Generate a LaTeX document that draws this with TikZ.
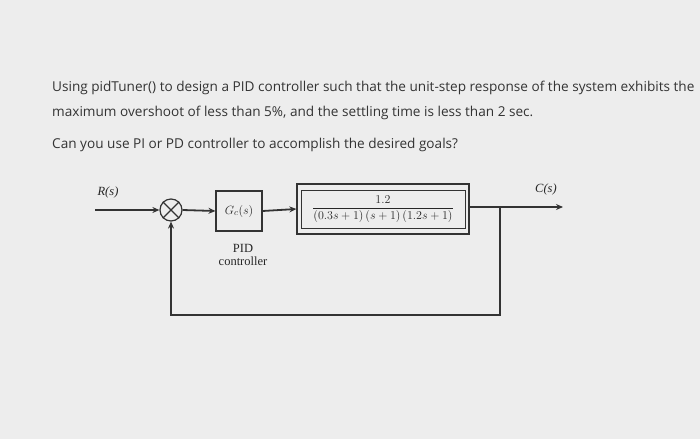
\documentclass[tikz,border=0pt]{standalone}
\usepackage{fontspec}
\setmainfont{Liberation Serif}
\newfontfamily\qfont{Open Sans}
\usetikzlibrary{arrows.meta}
\begin{document}
\begin{tikzpicture}[x=1pt,y=-1pt,
  blk/.style={draw=black!80,line width=1.2pt},
  wire/.style={draw=black!80,line width=1.8pt},
  arr/.style={wire,-{Stealth[length=7pt,width=6pt]}},
  qtxt/.style={font=\qfont\fontsize{13.6}{15}\selectfont,text=black!80,anchor=west,inner sep=0pt},
  dtxt/.style={font=\fontsize{12.5}{13}\selectfont,text=black!85}]
\fill[black!7] (0,0) rectangle (700,439);
\useasboundingbox (0,0) rectangle (700,439);
\node[qtxt] (q1) at (52,88) {Using pidTuner() to design a PID controller such that the unit-step response of the system exhibits the};
\node[qtxt] (q2) at (52,113) {maximum overshoot of less than 5\%, and the settling time is less than 2 sec.};
\node[qtxt] (q3) at (52,145) {Can you use PI or PD controller to accomplish the desired goals?};
\coordinate (in) at (95,210);
\node[dtxt] (R) at (108,192) {\itshape R(s)};
\node[draw=black!80,line width=1.2pt,circle,minimum size=22pt,inner sep=0pt] (sum) at (171,210) {};
\draw[blk] (sum.north west)--(sum.south east) (sum.north east)--(sum.south west);
\node[blk,minimum width=46pt,minimum height=40pt,dtxt] (G) at (239,211) {$G_c(s)$};
\node[blk,minimum width=172pt,minimum height=50pt] (P) at (383,209) {};
\node[draw=black!80,line width=0.8pt,minimum width=164pt,minimum height=38pt,inner sep=1pt,dtxt] (Pin) at (383,209) {$\displaystyle\frac{1.2}{(0.3s+1)\,(s+1)\,(1.2s+1)}$};
\node[dtxt,align=center] (pid) at (243,255) {PID\\controller};
\coordinate (out) at (563,207);
\coordinate (br) at (500,207);
\node[dtxt] (C) at (546,189) {\itshape C(s)};
\draw[arr] (in) -- (sum.west);
\draw[arr] (sum.east) -- (G.west);
\draw[arr] (G.east) -- (P.west);
\draw[arr] (P.east|-out) -- (out);
\draw[arr] (br) -- (500,315) -| (sum.south);
\end{tikzpicture}
\end{document}
